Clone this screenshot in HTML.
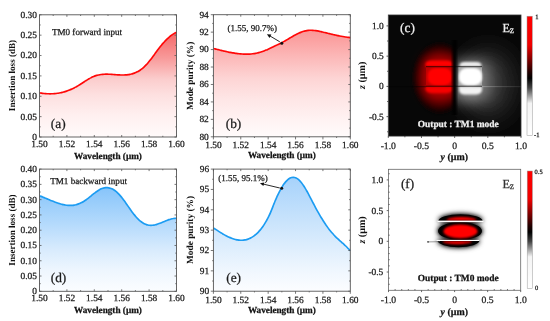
<!DOCTYPE html><html><head><meta charset="utf-8"><style>html,body{margin:0;padding:0;background:#fff;}svg{display:block;filter:blur(0.45px)} text{text-rendering:geometricPrecision;stroke-width:0.25px;paint-order:stroke}</style></head><body>
<svg xmlns="http://www.w3.org/2000/svg" width="550" height="321" viewBox="0 0 550 321" font-family='"Liberation Serif", serif'>
<defs>
<linearGradient id="gRa" gradientUnits="userSpaceOnUse" x1="0" y1="31.8" x2="0" y2="137.0"><stop offset="0" stop-color="#f56666"/><stop offset="0.25" stop-color="#f89a9a"/><stop offset="0.45" stop-color="#fbcdcd"/><stop offset="0.6" stop-color="#fde0e0"/><stop offset="0.8" stop-color="#fff0f0"/><stop offset="1" stop-color="#fffafa"/></linearGradient>
<linearGradient id="gRb" gradientUnits="userSpaceOnUse" x1="0" y1="29.7" x2="0" y2="136.8"><stop offset="0" stop-color="#fa9696"/><stop offset="0.1" stop-color="#fba2a2"/><stop offset="0.45" stop-color="#fdd4d4"/><stop offset="0.65" stop-color="#fee6e6"/><stop offset="0.85" stop-color="#fff3f3"/><stop offset="1" stop-color="#fffbfb"/></linearGradient>
<linearGradient id="gBd" gradientUnits="userSpaceOnUse" x1="0" y1="187.1" x2="0" y2="291.3"><stop offset="0" stop-color="#86c4fa"/><stop offset="0.35" stop-color="#b4dafc"/><stop offset="0.6" stop-color="#d8ebfd"/><stop offset="0.8" stop-color="#eef6fe"/><stop offset="1" stop-color="#fbfdff"/></linearGradient>
<linearGradient id="gBe" gradientUnits="userSpaceOnUse" x1="0" y1="177.1" x2="0" y2="291.2"><stop offset="0" stop-color="#a6d2fb"/><stop offset="0.4" stop-color="#cae4fc"/><stop offset="0.8" stop-color="#eef6fe"/><stop offset="1" stop-color="#fcfdff"/></linearGradient>
<linearGradient id="cbC" x1="0" y1="0" x2="0" y2="1"><stop offset="0" stop-color="#ff0000"/><stop offset="0.24" stop-color="#f00000"/><stop offset="0.47" stop-color="#200000"/><stop offset="0.52" stop-color="#000"/><stop offset="0.6" stop-color="#444"/><stop offset="0.73" stop-color="#f4f4f4"/><stop offset="1" stop-color="#fff"/></linearGradient>
<linearGradient id="cbF" x1="0" y1="0" x2="0" y2="1"><stop offset="0" stop-color="#ff0000"/><stop offset="0.24" stop-color="#f00000"/><stop offset="0.47" stop-color="#200000"/><stop offset="0.52" stop-color="#000"/><stop offset="0.6" stop-color="#444"/><stop offset="0.73" stop-color="#f4f4f4"/><stop offset="1" stop-color="#fff"/></linearGradient>
<filter id="bl1" x="-50%" y="-50%" width="200%" height="200%"><feGaussianBlur stdDeviation="1"/></filter>
<filter id="bl05" x="-50%" y="-50%" width="200%" height="200%"><feGaussianBlur stdDeviation="0.6"/></filter>
<filter id="bl2" x="-50%" y="-50%" width="200%" height="200%"><feGaussianBlur stdDeviation="2"/></filter>
<filter id="bl3" x="-50%" y="-50%" width="200%" height="200%"><feGaussianBlur stdDeviation="3"/></filter>
<filter id="bl5" x="-50%" y="-50%" width="200%" height="200%"><feGaussianBlur stdDeviation="5"/></filter>
<filter id="bl8" x="-50%" y="-50%" width="200%" height="200%"><feGaussianBlur stdDeviation="8"/></filter>
<clipPath id="clipC"><rect x="388.3" y="15.0" width="132.7" height="121.1"/></clipPath>
<clipPath id="clipF"><rect x="388.5" y="169.3" width="132.20000000000005" height="121.0"/></clipPath>
<marker id="arr" viewBox="0 0 10 10" refX="1" refY="5" markerWidth="4.5" markerHeight="4" orient="auto-start-reverse"><path d="M0,0 L10,5 L0,10 z" fill="#111"/></marker>
</defs>
<path d="M39.50,92.85 C39.75,92.89 40.50,93.02 41.01,93.10 C41.51,93.17 42.01,93.25 42.51,93.31 C43.01,93.37 43.51,93.43 44.02,93.49 C44.52,93.54 45.02,93.58 45.52,93.62 C46.02,93.66 46.53,93.70 47.03,93.72 C47.53,93.75 48.03,93.77 48.53,93.78 C49.03,93.80 49.54,93.80 50.04,93.80 C50.54,93.80 51.04,93.80 51.54,93.78 C52.05,93.77 52.55,93.75 53.05,93.72 C53.55,93.69 54.05,93.66 54.55,93.61 C55.06,93.57 55.56,93.52 56.06,93.46 C56.56,93.41 57.06,93.34 57.57,93.27 C58.07,93.20 58.57,93.12 59.07,93.03 C59.57,92.94 60.08,92.85 60.58,92.75 C61.08,92.64 61.58,92.53 62.08,92.41 C62.58,92.29 63.09,92.17 63.59,92.03 C64.09,91.90 64.59,91.75 65.09,91.60 C65.60,91.45 66.10,91.29 66.60,91.12 C67.10,90.95 67.60,90.78 68.10,90.59 C68.61,90.41 69.11,90.21 69.61,90.01 C70.11,89.81 70.61,89.60 71.12,89.38 C71.62,89.16 72.12,88.93 72.62,88.69 C73.12,88.45 73.62,88.21 74.13,87.95 C74.63,87.69 75.13,87.43 75.63,87.15 C76.13,86.88 76.64,86.60 77.14,86.30 C77.64,86.01 78.14,85.71 78.64,85.40 C79.14,85.09 79.65,84.77 80.15,84.45 C80.65,84.13 81.15,83.80 81.65,83.47 C82.16,83.14 82.66,82.81 83.16,82.48 C83.66,82.15 84.16,81.82 84.66,81.49 C85.17,81.17 85.67,80.84 86.17,80.52 C86.67,80.20 87.17,79.89 87.68,79.58 C88.18,79.28 88.68,78.98 89.18,78.69 C89.68,78.40 90.18,78.12 90.69,77.86 C91.19,77.59 91.69,77.34 92.19,77.10 C92.69,76.86 93.20,76.64 93.70,76.43 C94.20,76.23 94.70,76.04 95.20,75.86 C95.71,75.69 96.21,75.54 96.71,75.39 C97.21,75.25 97.71,75.13 98.21,75.01 C98.72,74.90 99.22,74.80 99.72,74.71 C100.22,74.63 100.72,74.55 101.23,74.49 C101.73,74.43 102.23,74.38 102.73,74.33 C103.23,74.29 103.73,74.26 104.24,74.23 C104.74,74.21 105.24,74.20 105.74,74.19 C106.24,74.18 106.75,74.18 107.25,74.19 C107.75,74.20 108.25,74.21 108.75,74.23 C109.25,74.25 109.76,74.27 110.26,74.30 C110.76,74.32 111.26,74.35 111.76,74.39 C112.27,74.42 112.77,74.46 113.27,74.49 C113.77,74.53 114.27,74.57 114.77,74.61 C115.28,74.64 115.78,74.68 116.28,74.72 C116.78,74.76 117.28,74.79 117.79,74.82 C118.29,74.85 118.79,74.89 119.29,74.91 C119.79,74.94 120.29,74.96 120.80,74.97 C121.30,74.99 121.80,75.00 122.30,75.00 C122.80,75.01 123.31,75.00 123.81,74.99 C124.31,74.98 124.81,74.96 125.31,74.93 C125.82,74.90 126.32,74.87 126.82,74.82 C127.32,74.77 127.82,74.71 128.32,74.64 C128.83,74.57 129.33,74.49 129.83,74.39 C130.33,74.29 130.83,74.18 131.34,74.06 C131.84,73.93 132.34,73.80 132.84,73.64 C133.34,73.49 133.84,73.32 134.35,73.13 C134.85,72.94 135.35,72.74 135.85,72.51 C136.35,72.29 136.86,72.05 137.36,71.78 C137.86,71.52 138.36,71.24 138.86,70.93 C139.36,70.63 139.87,70.31 140.37,69.96 C140.87,69.61 141.37,69.24 141.87,68.85 C142.38,68.46 142.88,68.04 143.38,67.60 C143.88,67.15 144.38,66.69 144.88,66.19 C145.39,65.70 145.89,65.18 146.39,64.63 C146.89,64.09 147.39,63.52 147.90,62.93 C148.40,62.34 148.90,61.73 149.40,61.10 C149.90,60.48 150.40,59.83 150.91,59.18 C151.41,58.53 151.91,57.86 152.41,57.19 C152.91,56.52 153.42,55.84 153.92,55.16 C154.42,54.47 154.92,53.79 155.42,53.10 C155.92,52.42 156.43,51.73 156.93,51.05 C157.43,50.37 157.93,49.69 158.43,49.03 C158.94,48.37 159.44,47.71 159.94,47.06 C160.44,46.42 160.94,45.79 161.45,45.18 C161.95,44.57 162.45,43.97 162.95,43.39 C163.45,42.81 163.95,42.24 164.46,41.70 C164.96,41.15 165.46,40.62 165.96,40.11 C166.46,39.60 166.97,39.10 167.47,38.63 C167.97,38.15 168.47,37.70 168.97,37.26 C169.47,36.82 169.98,36.40 170.48,36.01 C170.98,35.61 171.48,35.23 171.98,34.87 C172.49,34.51 172.99,34.17 173.49,33.85 C173.99,33.54 174.49,33.24 174.99,32.97 C175.50,32.69 176.25,32.33 176.50,32.21 L176.50,137.00 L39.50,137.00 Z" fill="url(#gRa)"/>
<path d="M39.50,92.85 C39.75,92.89 40.50,93.02 41.01,93.10 C41.51,93.17 42.01,93.25 42.51,93.31 C43.01,93.37 43.51,93.43 44.02,93.49 C44.52,93.54 45.02,93.58 45.52,93.62 C46.02,93.66 46.53,93.70 47.03,93.72 C47.53,93.75 48.03,93.77 48.53,93.78 C49.03,93.80 49.54,93.80 50.04,93.80 C50.54,93.80 51.04,93.80 51.54,93.78 C52.05,93.77 52.55,93.75 53.05,93.72 C53.55,93.69 54.05,93.66 54.55,93.61 C55.06,93.57 55.56,93.52 56.06,93.46 C56.56,93.41 57.06,93.34 57.57,93.27 C58.07,93.20 58.57,93.12 59.07,93.03 C59.57,92.94 60.08,92.85 60.58,92.75 C61.08,92.64 61.58,92.53 62.08,92.41 C62.58,92.29 63.09,92.17 63.59,92.03 C64.09,91.90 64.59,91.75 65.09,91.60 C65.60,91.45 66.10,91.29 66.60,91.12 C67.10,90.95 67.60,90.78 68.10,90.59 C68.61,90.41 69.11,90.21 69.61,90.01 C70.11,89.81 70.61,89.60 71.12,89.38 C71.62,89.16 72.12,88.93 72.62,88.69 C73.12,88.45 73.62,88.21 74.13,87.95 C74.63,87.69 75.13,87.43 75.63,87.15 C76.13,86.88 76.64,86.60 77.14,86.30 C77.64,86.01 78.14,85.71 78.64,85.40 C79.14,85.09 79.65,84.77 80.15,84.45 C80.65,84.13 81.15,83.80 81.65,83.47 C82.16,83.14 82.66,82.81 83.16,82.48 C83.66,82.15 84.16,81.82 84.66,81.49 C85.17,81.17 85.67,80.84 86.17,80.52 C86.67,80.20 87.17,79.89 87.68,79.58 C88.18,79.28 88.68,78.98 89.18,78.69 C89.68,78.40 90.18,78.12 90.69,77.86 C91.19,77.59 91.69,77.34 92.19,77.10 C92.69,76.86 93.20,76.64 93.70,76.43 C94.20,76.23 94.70,76.04 95.20,75.86 C95.71,75.69 96.21,75.54 96.71,75.39 C97.21,75.25 97.71,75.13 98.21,75.01 C98.72,74.90 99.22,74.80 99.72,74.71 C100.22,74.63 100.72,74.55 101.23,74.49 C101.73,74.43 102.23,74.38 102.73,74.33 C103.23,74.29 103.73,74.26 104.24,74.23 C104.74,74.21 105.24,74.20 105.74,74.19 C106.24,74.18 106.75,74.18 107.25,74.19 C107.75,74.20 108.25,74.21 108.75,74.23 C109.25,74.25 109.76,74.27 110.26,74.30 C110.76,74.32 111.26,74.35 111.76,74.39 C112.27,74.42 112.77,74.46 113.27,74.49 C113.77,74.53 114.27,74.57 114.77,74.61 C115.28,74.64 115.78,74.68 116.28,74.72 C116.78,74.76 117.28,74.79 117.79,74.82 C118.29,74.85 118.79,74.89 119.29,74.91 C119.79,74.94 120.29,74.96 120.80,74.97 C121.30,74.99 121.80,75.00 122.30,75.00 C122.80,75.01 123.31,75.00 123.81,74.99 C124.31,74.98 124.81,74.96 125.31,74.93 C125.82,74.90 126.32,74.87 126.82,74.82 C127.32,74.77 127.82,74.71 128.32,74.64 C128.83,74.57 129.33,74.49 129.83,74.39 C130.33,74.29 130.83,74.18 131.34,74.06 C131.84,73.93 132.34,73.80 132.84,73.64 C133.34,73.49 133.84,73.32 134.35,73.13 C134.85,72.94 135.35,72.74 135.85,72.51 C136.35,72.29 136.86,72.05 137.36,71.78 C137.86,71.52 138.36,71.24 138.86,70.93 C139.36,70.63 139.87,70.31 140.37,69.96 C140.87,69.61 141.37,69.24 141.87,68.85 C142.38,68.46 142.88,68.04 143.38,67.60 C143.88,67.15 144.38,66.69 144.88,66.19 C145.39,65.70 145.89,65.18 146.39,64.63 C146.89,64.09 147.39,63.52 147.90,62.93 C148.40,62.34 148.90,61.73 149.40,61.10 C149.90,60.48 150.40,59.83 150.91,59.18 C151.41,58.53 151.91,57.86 152.41,57.19 C152.91,56.52 153.42,55.84 153.92,55.16 C154.42,54.47 154.92,53.79 155.42,53.10 C155.92,52.42 156.43,51.73 156.93,51.05 C157.43,50.37 157.93,49.69 158.43,49.03 C158.94,48.37 159.44,47.71 159.94,47.06 C160.44,46.42 160.94,45.79 161.45,45.18 C161.95,44.57 162.45,43.97 162.95,43.39 C163.45,42.81 163.95,42.24 164.46,41.70 C164.96,41.15 165.46,40.62 165.96,40.11 C166.46,39.60 166.97,39.10 167.47,38.63 C167.97,38.15 168.47,37.70 168.97,37.26 C169.47,36.82 169.98,36.40 170.48,36.01 C170.98,35.61 171.48,35.23 171.98,34.87 C172.49,34.51 172.99,34.17 173.49,33.85 C173.99,33.54 174.49,33.24 174.99,32.97 C175.50,32.69 176.25,32.33 176.50,32.21" fill="none" stroke="#ff0808" stroke-width="1.65" stroke-linejoin="round"/>
<rect x="39.50" y="14.80" width="137.00" height="122.20" fill="none" stroke="#555" stroke-width="0.9"/>
<path d="M39.50,137.00v-2.00M39.50,14.80v2.00M66.90,137.00v-2.00M66.90,14.80v2.00M94.30,137.00v-2.00M94.30,14.80v2.00M121.70,137.00v-2.00M121.70,14.80v2.00M149.10,137.00v-2.00M149.10,14.80v2.00M176.50,137.00v-2.00M176.50,14.80v2.00M53.20,137.00v-1.20M53.20,14.80v1.20M80.60,137.00v-1.20M80.60,14.80v1.20M108.00,137.00v-1.20M108.00,14.80v1.20M135.40,137.00v-1.20M135.40,14.80v1.20M162.80,137.00v-1.20M162.80,14.80v1.20M39.50,137.00h2.00M176.50,137.00h-2.00M39.50,116.63h2.00M176.50,116.63h-2.00M39.50,96.27h2.00M176.50,96.27h-2.00M39.50,75.90h2.00M176.50,75.90h-2.00M39.50,55.53h2.00M176.50,55.53h-2.00M39.50,35.17h2.00M176.50,35.17h-2.00M39.50,14.80h2.00M176.50,14.80h-2.00M39.50,126.82h1.20M176.50,126.82h-1.20M39.50,106.45h1.20M176.50,106.45h-1.20M39.50,86.08h1.20M176.50,86.08h-1.20M39.50,65.72h1.20M176.50,65.72h-1.20M39.50,45.35h1.20M176.50,45.35h-1.20M39.50,24.98h1.20M176.50,24.98h-1.20" stroke="#555" stroke-width="0.8" fill="none"/>
<text x="39.50" y="147.10" font-size="9.4" text-anchor="middle" font-weight="normal" font-style="normal" fill="#1a1a1a" stroke="#1a1a1a" >1.50</text>
<text x="66.90" y="147.10" font-size="9.4" text-anchor="middle" font-weight="normal" font-style="normal" fill="#1a1a1a" stroke="#1a1a1a" >1.52</text>
<text x="94.30" y="147.10" font-size="9.4" text-anchor="middle" font-weight="normal" font-style="normal" fill="#1a1a1a" stroke="#1a1a1a" >1.54</text>
<text x="121.70" y="147.10" font-size="9.4" text-anchor="middle" font-weight="normal" font-style="normal" fill="#1a1a1a" stroke="#1a1a1a" >1.56</text>
<text x="149.10" y="147.10" font-size="9.4" text-anchor="middle" font-weight="normal" font-style="normal" fill="#1a1a1a" stroke="#1a1a1a" >1.58</text>
<text x="176.50" y="147.10" font-size="9.4" text-anchor="middle" font-weight="normal" font-style="normal" fill="#1a1a1a" stroke="#1a1a1a" >1.60</text>
<text x="36.90" y="139.90" font-size="9.4" text-anchor="end" font-weight="normal" font-style="normal" fill="#1a1a1a" stroke="#1a1a1a" >0</text>
<text x="36.90" y="119.53" font-size="9.4" text-anchor="end" font-weight="normal" font-style="normal" fill="#1a1a1a" stroke="#1a1a1a" >0.05</text>
<text x="36.90" y="99.17" font-size="9.4" text-anchor="end" font-weight="normal" font-style="normal" fill="#1a1a1a" stroke="#1a1a1a" >0.10</text>
<text x="36.90" y="78.80" font-size="9.4" text-anchor="end" font-weight="normal" font-style="normal" fill="#1a1a1a" stroke="#1a1a1a" >0.15</text>
<text x="36.90" y="58.43" font-size="9.4" text-anchor="end" font-weight="normal" font-style="normal" fill="#1a1a1a" stroke="#1a1a1a" >0.20</text>
<text x="36.90" y="38.07" font-size="9.4" text-anchor="end" font-weight="normal" font-style="normal" fill="#1a1a1a" stroke="#1a1a1a" >0.25</text>
<text x="36.90" y="17.70" font-size="9.4" text-anchor="end" font-weight="normal" font-style="normal" fill="#1a1a1a" stroke="#1a1a1a" >0.30</text>
<text x="51.90" y="34.60" font-size="9.1" text-anchor="start" font-weight="normal" font-style="normal" fill="#1a1a1a" stroke="#1a1a1a" >TM0 forward input</text>
<text x="50.80" y="127.60" font-size="13.4" text-anchor="start" font-weight="normal" font-style="normal" fill="#1a1a1a" stroke="#1a1a1a" >(a)</text>
<path d="M213.60,48.55 C213.85,48.61 214.60,48.79 215.10,48.91 C215.60,49.03 216.10,49.15 216.60,49.27 C217.11,49.39 217.61,49.52 218.11,49.64 C218.61,49.76 219.11,49.88 219.61,50.00 C220.11,50.12 220.61,50.25 221.11,50.37 C221.61,50.49 222.11,50.61 222.61,50.72 C223.11,50.84 223.61,50.96 224.12,51.08 C224.62,51.19 225.12,51.31 225.62,51.42 C226.12,51.53 226.62,51.64 227.12,51.75 C227.62,51.86 228.12,51.97 228.62,52.07 C229.12,52.18 229.62,52.28 230.12,52.38 C230.62,52.48 231.13,52.57 231.63,52.66 C232.13,52.76 232.63,52.85 233.13,52.93 C233.63,53.02 234.13,53.10 234.63,53.18 C235.13,53.26 235.63,53.34 236.13,53.41 C236.63,53.48 237.13,53.55 237.64,53.61 C238.14,53.67 238.64,53.73 239.14,53.78 C239.64,53.84 240.14,53.88 240.64,53.93 C241.14,53.97 241.64,54.01 242.14,54.04 C242.64,54.07 243.14,54.10 243.64,54.12 C244.14,54.14 244.65,54.16 245.15,54.17 C245.65,54.17 246.15,54.18 246.65,54.17 C247.15,54.17 247.65,54.16 248.15,54.14 C248.65,54.12 249.15,54.10 249.65,54.07 C250.15,54.04 250.65,54.00 251.15,53.95 C251.66,53.91 252.16,53.85 252.66,53.79 C253.16,53.73 253.66,53.66 254.16,53.58 C254.66,53.50 255.16,53.42 255.66,53.32 C256.16,53.23 256.66,53.12 257.16,53.01 C257.66,52.90 258.17,52.78 258.67,52.65 C259.17,52.51 259.67,52.37 260.17,52.23 C260.67,52.08 261.17,51.92 261.67,51.75 C262.17,51.58 262.67,51.41 263.17,51.22 C263.67,51.04 264.17,50.85 264.67,50.65 C265.18,50.46 265.68,50.25 266.18,50.04 C266.68,49.84 267.18,49.62 267.68,49.40 C268.18,49.18 268.68,48.96 269.18,48.73 C269.68,48.50 270.18,48.27 270.68,48.03 C271.18,47.80 271.68,47.56 272.19,47.32 C272.69,47.08 273.19,46.83 273.69,46.59 C274.19,46.35 274.69,46.10 275.19,45.86 C275.69,45.61 276.19,45.37 276.69,45.12 C277.19,44.88 277.69,44.63 278.19,44.39 C278.70,44.14 279.20,43.90 279.70,43.66 C280.20,43.41 280.70,43.16 281.20,42.91 C281.70,42.66 282.20,42.41 282.70,42.15 C283.20,41.89 283.70,41.63 284.20,41.36 C284.70,41.08 285.20,40.81 285.71,40.52 C286.21,40.23 286.71,39.93 287.21,39.64 C287.71,39.34 288.21,39.03 288.71,38.73 C289.21,38.43 289.71,38.12 290.21,37.82 C290.71,37.53 291.21,37.23 291.71,36.94 C292.22,36.64 292.72,36.36 293.22,36.07 C293.72,35.79 294.22,35.51 294.72,35.24 C295.22,34.97 295.72,34.70 296.22,34.45 C296.72,34.19 297.22,33.94 297.72,33.70 C298.22,33.46 298.72,33.23 299.23,33.01 C299.73,32.79 300.23,32.58 300.73,32.38 C301.23,32.18 301.73,31.99 302.23,31.82 C302.73,31.64 303.23,31.48 303.73,31.33 C304.23,31.18 304.73,31.04 305.23,30.92 C305.73,30.80 306.24,30.70 306.74,30.61 C307.24,30.52 307.74,30.45 308.24,30.39 C308.74,30.34 309.24,30.30 309.74,30.28 C310.24,30.26 310.74,30.25 311.24,30.26 C311.74,30.26 312.24,30.29 312.75,30.32 C313.25,30.35 313.75,30.40 314.25,30.45 C314.75,30.51 315.25,30.57 315.75,30.65 C316.25,30.72 316.75,30.80 317.25,30.89 C317.75,30.98 318.25,31.08 318.75,31.18 C319.25,31.28 319.76,31.39 320.26,31.49 C320.76,31.60 321.26,31.72 321.76,31.83 C322.26,31.95 322.76,32.06 323.26,32.18 C323.76,32.30 324.26,32.42 324.76,32.53 C325.26,32.65 325.76,32.77 326.26,32.89 C326.77,33.01 327.27,33.13 327.77,33.25 C328.27,33.37 328.77,33.49 329.27,33.61 C329.77,33.73 330.27,33.85 330.77,33.97 C331.27,34.09 331.77,34.21 332.27,34.33 C332.77,34.45 333.28,34.56 333.78,34.68 C334.28,34.79 334.78,34.91 335.28,35.02 C335.78,35.13 336.28,35.24 336.78,35.35 C337.28,35.46 337.78,35.57 338.28,35.67 C338.78,35.78 339.28,35.88 339.78,35.98 C340.29,36.08 340.79,36.17 341.29,36.27 C341.79,36.36 342.29,36.45 342.79,36.54 C343.29,36.63 343.79,36.71 344.29,36.79 C344.79,36.87 345.29,36.95 345.79,37.02 C346.29,37.10 346.79,37.17 347.30,37.23 C347.80,37.29 348.30,37.35 348.80,37.41 C349.30,37.47 350.05,37.54 350.30,37.56 L350.30,136.80 L213.60,136.80 Z" fill="url(#gRb)"/>
<path d="M213.60,48.55 C213.85,48.61 214.60,48.79 215.10,48.91 C215.60,49.03 216.10,49.15 216.60,49.27 C217.11,49.39 217.61,49.52 218.11,49.64 C218.61,49.76 219.11,49.88 219.61,50.00 C220.11,50.12 220.61,50.25 221.11,50.37 C221.61,50.49 222.11,50.61 222.61,50.72 C223.11,50.84 223.61,50.96 224.12,51.08 C224.62,51.19 225.12,51.31 225.62,51.42 C226.12,51.53 226.62,51.64 227.12,51.75 C227.62,51.86 228.12,51.97 228.62,52.07 C229.12,52.18 229.62,52.28 230.12,52.38 C230.62,52.48 231.13,52.57 231.63,52.66 C232.13,52.76 232.63,52.85 233.13,52.93 C233.63,53.02 234.13,53.10 234.63,53.18 C235.13,53.26 235.63,53.34 236.13,53.41 C236.63,53.48 237.13,53.55 237.64,53.61 C238.14,53.67 238.64,53.73 239.14,53.78 C239.64,53.84 240.14,53.88 240.64,53.93 C241.14,53.97 241.64,54.01 242.14,54.04 C242.64,54.07 243.14,54.10 243.64,54.12 C244.14,54.14 244.65,54.16 245.15,54.17 C245.65,54.17 246.15,54.18 246.65,54.17 C247.15,54.17 247.65,54.16 248.15,54.14 C248.65,54.12 249.15,54.10 249.65,54.07 C250.15,54.04 250.65,54.00 251.15,53.95 C251.66,53.91 252.16,53.85 252.66,53.79 C253.16,53.73 253.66,53.66 254.16,53.58 C254.66,53.50 255.16,53.42 255.66,53.32 C256.16,53.23 256.66,53.12 257.16,53.01 C257.66,52.90 258.17,52.78 258.67,52.65 C259.17,52.51 259.67,52.37 260.17,52.23 C260.67,52.08 261.17,51.92 261.67,51.75 C262.17,51.58 262.67,51.41 263.17,51.22 C263.67,51.04 264.17,50.85 264.67,50.65 C265.18,50.46 265.68,50.25 266.18,50.04 C266.68,49.84 267.18,49.62 267.68,49.40 C268.18,49.18 268.68,48.96 269.18,48.73 C269.68,48.50 270.18,48.27 270.68,48.03 C271.18,47.80 271.68,47.56 272.19,47.32 C272.69,47.08 273.19,46.83 273.69,46.59 C274.19,46.35 274.69,46.10 275.19,45.86 C275.69,45.61 276.19,45.37 276.69,45.12 C277.19,44.88 277.69,44.63 278.19,44.39 C278.70,44.14 279.20,43.90 279.70,43.66 C280.20,43.41 280.70,43.16 281.20,42.91 C281.70,42.66 282.20,42.41 282.70,42.15 C283.20,41.89 283.70,41.63 284.20,41.36 C284.70,41.08 285.20,40.81 285.71,40.52 C286.21,40.23 286.71,39.93 287.21,39.64 C287.71,39.34 288.21,39.03 288.71,38.73 C289.21,38.43 289.71,38.12 290.21,37.82 C290.71,37.53 291.21,37.23 291.71,36.94 C292.22,36.64 292.72,36.36 293.22,36.07 C293.72,35.79 294.22,35.51 294.72,35.24 C295.22,34.97 295.72,34.70 296.22,34.45 C296.72,34.19 297.22,33.94 297.72,33.70 C298.22,33.46 298.72,33.23 299.23,33.01 C299.73,32.79 300.23,32.58 300.73,32.38 C301.23,32.18 301.73,31.99 302.23,31.82 C302.73,31.64 303.23,31.48 303.73,31.33 C304.23,31.18 304.73,31.04 305.23,30.92 C305.73,30.80 306.24,30.70 306.74,30.61 C307.24,30.52 307.74,30.45 308.24,30.39 C308.74,30.34 309.24,30.30 309.74,30.28 C310.24,30.26 310.74,30.25 311.24,30.26 C311.74,30.26 312.24,30.29 312.75,30.32 C313.25,30.35 313.75,30.40 314.25,30.45 C314.75,30.51 315.25,30.57 315.75,30.65 C316.25,30.72 316.75,30.80 317.25,30.89 C317.75,30.98 318.25,31.08 318.75,31.18 C319.25,31.28 319.76,31.39 320.26,31.49 C320.76,31.60 321.26,31.72 321.76,31.83 C322.26,31.95 322.76,32.06 323.26,32.18 C323.76,32.30 324.26,32.42 324.76,32.53 C325.26,32.65 325.76,32.77 326.26,32.89 C326.77,33.01 327.27,33.13 327.77,33.25 C328.27,33.37 328.77,33.49 329.27,33.61 C329.77,33.73 330.27,33.85 330.77,33.97 C331.27,34.09 331.77,34.21 332.27,34.33 C332.77,34.45 333.28,34.56 333.78,34.68 C334.28,34.79 334.78,34.91 335.28,35.02 C335.78,35.13 336.28,35.24 336.78,35.35 C337.28,35.46 337.78,35.57 338.28,35.67 C338.78,35.78 339.28,35.88 339.78,35.98 C340.29,36.08 340.79,36.17 341.29,36.27 C341.79,36.36 342.29,36.45 342.79,36.54 C343.29,36.63 343.79,36.71 344.29,36.79 C344.79,36.87 345.29,36.95 345.79,37.02 C346.29,37.10 346.79,37.17 347.30,37.23 C347.80,37.29 348.30,37.35 348.80,37.41 C349.30,37.47 350.05,37.54 350.30,37.56" fill="none" stroke="#ff0808" stroke-width="1.65" stroke-linejoin="round"/>
<rect x="213.40" y="14.70" width="136.90" height="122.10" fill="none" stroke="#555" stroke-width="0.9"/>
<path d="M213.40,136.80v2.60M213.40,14.70v2.00M240.78,136.80v2.60M240.78,14.70v2.00M268.16,136.80v2.60M268.16,14.70v2.00M295.54,136.80v2.60M295.54,14.70v2.00M322.92,136.80v2.60M322.92,14.70v2.00M350.30,136.80v2.60M350.30,14.70v2.00M227.09,136.80v1.20M227.09,14.70v1.20M254.47,136.80v1.20M254.47,14.70v1.20M281.85,136.80v1.20M281.85,14.70v1.20M309.23,136.80v1.20M309.23,14.70v1.20M336.61,136.80v1.20M336.61,14.70v1.20M213.40,136.80h-2.60M350.30,136.80h-2.00M213.40,119.36h-2.60M350.30,119.36h-2.00M213.40,101.91h-2.60M350.30,101.91h-2.00M213.40,84.47h-2.60M350.30,84.47h-2.00M213.40,67.03h-2.60M350.30,67.03h-2.00M213.40,49.59h-2.60M350.30,49.59h-2.00M213.40,32.14h-2.60M350.30,32.14h-2.00M213.40,14.70h-2.60M350.30,14.70h-2.00M213.40,128.08h-1.20M350.30,128.08h-1.20M213.40,110.64h-1.20M350.30,110.64h-1.20M213.40,93.19h-1.20M350.30,93.19h-1.20M213.40,75.75h-1.20M350.30,75.75h-1.20M213.40,58.31h-1.20M350.30,58.31h-1.20M213.40,40.86h-1.20M350.30,40.86h-1.20M213.40,23.42h-1.20M350.30,23.42h-1.20" stroke="#555" stroke-width="0.8" fill="none"/>
<text x="213.40" y="148.00" font-size="9.4" text-anchor="middle" font-weight="normal" font-style="normal" fill="#1a1a1a" stroke="#1a1a1a" >1.50</text>
<text x="240.78" y="148.00" font-size="9.4" text-anchor="middle" font-weight="normal" font-style="normal" fill="#1a1a1a" stroke="#1a1a1a" >1.52</text>
<text x="268.16" y="148.00" font-size="9.4" text-anchor="middle" font-weight="normal" font-style="normal" fill="#1a1a1a" stroke="#1a1a1a" >1.54</text>
<text x="295.54" y="148.00" font-size="9.4" text-anchor="middle" font-weight="normal" font-style="normal" fill="#1a1a1a" stroke="#1a1a1a" >1.56</text>
<text x="322.92" y="148.00" font-size="9.4" text-anchor="middle" font-weight="normal" font-style="normal" fill="#1a1a1a" stroke="#1a1a1a" >1.58</text>
<text x="350.30" y="148.00" font-size="9.4" text-anchor="middle" font-weight="normal" font-style="normal" fill="#1a1a1a" stroke="#1a1a1a" >1.60</text>
<text x="208.80" y="139.70" font-size="9.4" text-anchor="end" font-weight="normal" font-style="normal" fill="#1a1a1a" stroke="#1a1a1a" >80</text>
<text x="208.80" y="122.26" font-size="9.4" text-anchor="end" font-weight="normal" font-style="normal" fill="#1a1a1a" stroke="#1a1a1a" >82</text>
<text x="208.80" y="104.81" font-size="9.4" text-anchor="end" font-weight="normal" font-style="normal" fill="#1a1a1a" stroke="#1a1a1a" >84</text>
<text x="208.80" y="87.37" font-size="9.4" text-anchor="end" font-weight="normal" font-style="normal" fill="#1a1a1a" stroke="#1a1a1a" >86</text>
<text x="208.80" y="69.93" font-size="9.4" text-anchor="end" font-weight="normal" font-style="normal" fill="#1a1a1a" stroke="#1a1a1a" >88</text>
<text x="208.80" y="52.49" font-size="9.4" text-anchor="end" font-weight="normal" font-style="normal" fill="#1a1a1a" stroke="#1a1a1a" >90</text>
<text x="208.80" y="35.04" font-size="9.4" text-anchor="end" font-weight="normal" font-style="normal" fill="#1a1a1a" stroke="#1a1a1a" >92</text>
<text x="208.80" y="17.60" font-size="9.4" text-anchor="end" font-weight="normal" font-style="normal" fill="#1a1a1a" stroke="#1a1a1a" >94</text>
<text x="227.60" y="31.20" font-size="9" text-anchor="start" font-weight="normal" font-style="normal" fill="#1a1a1a" stroke="#1a1a1a" >(1.55, 90.7%)</text>
<line x1="279.8" y1="41.8" x2="269.5" y2="35.7" stroke="#111" stroke-width="0.9"/>
<polygon points="266.9,34.2 269.5,38.0 271.4,34.6" fill="#111"/>
<circle cx="281.8" cy="43.2" r="1.5" fill="#111"/>
<text x="225.70" y="127.60" font-size="13.4" text-anchor="start" font-weight="normal" font-style="normal" fill="#1a1a1a" stroke="#1a1a1a" >(b)</text>
<path d="M39.60,195.80 C39.85,195.90 40.60,196.19 41.10,196.39 C41.61,196.59 42.11,196.79 42.61,197.00 C43.11,197.20 43.61,197.41 44.11,197.62 C44.61,197.83 45.12,198.04 45.62,198.25 C46.12,198.46 46.62,198.67 47.12,198.88 C47.62,199.09 48.12,199.30 48.63,199.51 C49.13,199.72 49.63,199.93 50.13,200.14 C50.63,200.34 51.13,200.55 51.64,200.75 C52.14,200.95 52.64,201.15 53.14,201.35 C53.64,201.55 54.14,201.74 54.64,201.93 C55.15,202.12 55.65,202.30 56.15,202.48 C56.65,202.66 57.15,202.83 57.65,203.00 C58.15,203.17 58.66,203.33 59.16,203.49 C59.66,203.64 60.16,203.79 60.66,203.93 C61.16,204.07 61.66,204.21 62.17,204.33 C62.67,204.46 63.17,204.58 63.67,204.68 C64.17,204.79 64.67,204.89 65.17,204.98 C65.68,205.06 66.18,205.14 66.68,205.20 C67.18,205.27 67.68,205.32 68.18,205.36 C68.68,205.40 69.19,205.42 69.69,205.43 C70.19,205.45 70.69,205.44 71.19,205.42 C71.69,205.40 72.20,205.37 72.70,205.32 C73.20,205.27 73.70,205.20 74.20,205.11 C74.70,205.03 75.20,204.93 75.71,204.81 C76.21,204.68 76.71,204.55 77.21,204.39 C77.71,204.24 78.21,204.06 78.71,203.87 C79.22,203.68 79.72,203.47 80.22,203.25 C80.72,203.02 81.22,202.78 81.72,202.52 C82.22,202.26 82.73,201.99 83.23,201.69 C83.73,201.40 84.23,201.09 84.73,200.76 C85.23,200.43 85.73,200.08 86.24,199.72 C86.74,199.36 87.24,198.98 87.74,198.59 C88.24,198.21 88.74,197.81 89.25,197.40 C89.75,197.00 90.25,196.59 90.75,196.18 C91.25,195.77 91.75,195.35 92.25,194.95 C92.76,194.54 93.26,194.13 93.76,193.73 C94.26,193.33 94.76,192.93 95.26,192.55 C95.76,192.17 96.27,191.80 96.77,191.45 C97.27,191.10 97.77,190.76 98.27,190.44 C98.77,190.12 99.27,189.82 99.78,189.55 C100.28,189.28 100.78,189.03 101.28,188.81 C101.78,188.60 102.28,188.41 102.78,188.25 C103.29,188.09 103.79,187.96 104.29,187.87 C104.79,187.77 105.29,187.71 105.79,187.68 C106.29,187.64 106.80,187.64 107.30,187.67 C107.80,187.70 108.30,187.76 108.80,187.86 C109.30,187.95 109.81,188.08 110.31,188.24 C110.81,188.39 111.31,188.59 111.81,188.81 C112.31,189.03 112.81,189.29 113.32,189.58 C113.82,189.87 114.32,190.19 114.82,190.54 C115.32,190.90 115.82,191.28 116.32,191.71 C116.83,192.13 117.33,192.58 117.83,193.07 C118.33,193.56 118.83,194.08 119.33,194.63 C119.83,195.19 120.34,195.77 120.84,196.38 C121.34,196.98 121.84,197.62 122.34,198.26 C122.84,198.91 123.34,199.59 123.85,200.27 C124.35,200.95 124.85,201.65 125.35,202.35 C125.85,203.06 126.35,203.78 126.85,204.49 C127.36,205.21 127.86,205.93 128.36,206.65 C128.86,207.37 129.36,208.09 129.86,208.80 C130.37,209.51 130.87,210.22 131.37,210.91 C131.87,211.60 132.37,212.29 132.87,212.95 C133.37,213.61 133.88,214.26 134.38,214.88 C134.88,215.50 135.38,216.11 135.88,216.68 C136.38,217.26 136.88,217.80 137.39,218.32 C137.89,218.84 138.39,219.34 138.89,219.80 C139.39,220.27 139.89,220.71 140.39,221.12 C140.90,221.53 141.40,221.91 141.90,222.26 C142.40,222.61 142.90,222.94 143.40,223.23 C143.90,223.52 144.41,223.79 144.91,224.02 C145.41,224.26 145.91,224.46 146.41,224.63 C146.91,224.81 147.42,224.95 147.92,225.06 C148.42,225.17 148.92,225.25 149.42,225.30 C149.92,225.35 150.42,225.38 150.93,225.37 C151.43,225.37 151.93,225.35 152.43,225.30 C152.93,225.25 153.43,225.18 153.93,225.09 C154.44,225.00 154.94,224.89 155.44,224.76 C155.94,224.64 156.44,224.49 156.94,224.34 C157.44,224.19 157.95,224.02 158.45,223.84 C158.95,223.66 159.45,223.47 159.95,223.28 C160.45,223.08 160.95,222.88 161.46,222.67 C161.96,222.47 162.46,222.25 162.96,222.04 C163.46,221.83 163.96,221.62 164.46,221.41 C164.97,221.20 165.47,220.99 165.97,220.78 C166.47,220.58 166.97,220.38 167.47,220.19 C167.98,220.00 168.48,219.82 168.98,219.65 C169.48,219.48 169.98,219.31 170.48,219.17 C170.98,219.02 171.49,218.89 171.99,218.78 C172.49,218.66 172.99,218.56 173.49,218.49 C173.99,218.41 174.49,218.35 175.00,218.32 C175.50,218.28 176.25,218.29 176.50,218.29 L176.50,291.30 L39.60,291.30 Z" fill="url(#gBd)"/>
<path d="M39.60,195.80 C39.85,195.90 40.60,196.19 41.10,196.39 C41.61,196.59 42.11,196.79 42.61,197.00 C43.11,197.20 43.61,197.41 44.11,197.62 C44.61,197.83 45.12,198.04 45.62,198.25 C46.12,198.46 46.62,198.67 47.12,198.88 C47.62,199.09 48.12,199.30 48.63,199.51 C49.13,199.72 49.63,199.93 50.13,200.14 C50.63,200.34 51.13,200.55 51.64,200.75 C52.14,200.95 52.64,201.15 53.14,201.35 C53.64,201.55 54.14,201.74 54.64,201.93 C55.15,202.12 55.65,202.30 56.15,202.48 C56.65,202.66 57.15,202.83 57.65,203.00 C58.15,203.17 58.66,203.33 59.16,203.49 C59.66,203.64 60.16,203.79 60.66,203.93 C61.16,204.07 61.66,204.21 62.17,204.33 C62.67,204.46 63.17,204.58 63.67,204.68 C64.17,204.79 64.67,204.89 65.17,204.98 C65.68,205.06 66.18,205.14 66.68,205.20 C67.18,205.27 67.68,205.32 68.18,205.36 C68.68,205.40 69.19,205.42 69.69,205.43 C70.19,205.45 70.69,205.44 71.19,205.42 C71.69,205.40 72.20,205.37 72.70,205.32 C73.20,205.27 73.70,205.20 74.20,205.11 C74.70,205.03 75.20,204.93 75.71,204.81 C76.21,204.68 76.71,204.55 77.21,204.39 C77.71,204.24 78.21,204.06 78.71,203.87 C79.22,203.68 79.72,203.47 80.22,203.25 C80.72,203.02 81.22,202.78 81.72,202.52 C82.22,202.26 82.73,201.99 83.23,201.69 C83.73,201.40 84.23,201.09 84.73,200.76 C85.23,200.43 85.73,200.08 86.24,199.72 C86.74,199.36 87.24,198.98 87.74,198.59 C88.24,198.21 88.74,197.81 89.25,197.40 C89.75,197.00 90.25,196.59 90.75,196.18 C91.25,195.77 91.75,195.35 92.25,194.95 C92.76,194.54 93.26,194.13 93.76,193.73 C94.26,193.33 94.76,192.93 95.26,192.55 C95.76,192.17 96.27,191.80 96.77,191.45 C97.27,191.10 97.77,190.76 98.27,190.44 C98.77,190.12 99.27,189.82 99.78,189.55 C100.28,189.28 100.78,189.03 101.28,188.81 C101.78,188.60 102.28,188.41 102.78,188.25 C103.29,188.09 103.79,187.96 104.29,187.87 C104.79,187.77 105.29,187.71 105.79,187.68 C106.29,187.64 106.80,187.64 107.30,187.67 C107.80,187.70 108.30,187.76 108.80,187.86 C109.30,187.95 109.81,188.08 110.31,188.24 C110.81,188.39 111.31,188.59 111.81,188.81 C112.31,189.03 112.81,189.29 113.32,189.58 C113.82,189.87 114.32,190.19 114.82,190.54 C115.32,190.90 115.82,191.28 116.32,191.71 C116.83,192.13 117.33,192.58 117.83,193.07 C118.33,193.56 118.83,194.08 119.33,194.63 C119.83,195.19 120.34,195.77 120.84,196.38 C121.34,196.98 121.84,197.62 122.34,198.26 C122.84,198.91 123.34,199.59 123.85,200.27 C124.35,200.95 124.85,201.65 125.35,202.35 C125.85,203.06 126.35,203.78 126.85,204.49 C127.36,205.21 127.86,205.93 128.36,206.65 C128.86,207.37 129.36,208.09 129.86,208.80 C130.37,209.51 130.87,210.22 131.37,210.91 C131.87,211.60 132.37,212.29 132.87,212.95 C133.37,213.61 133.88,214.26 134.38,214.88 C134.88,215.50 135.38,216.11 135.88,216.68 C136.38,217.26 136.88,217.80 137.39,218.32 C137.89,218.84 138.39,219.34 138.89,219.80 C139.39,220.27 139.89,220.71 140.39,221.12 C140.90,221.53 141.40,221.91 141.90,222.26 C142.40,222.61 142.90,222.94 143.40,223.23 C143.90,223.52 144.41,223.79 144.91,224.02 C145.41,224.26 145.91,224.46 146.41,224.63 C146.91,224.81 147.42,224.95 147.92,225.06 C148.42,225.17 148.92,225.25 149.42,225.30 C149.92,225.35 150.42,225.38 150.93,225.37 C151.43,225.37 151.93,225.35 152.43,225.30 C152.93,225.25 153.43,225.18 153.93,225.09 C154.44,225.00 154.94,224.89 155.44,224.76 C155.94,224.64 156.44,224.49 156.94,224.34 C157.44,224.19 157.95,224.02 158.45,223.84 C158.95,223.66 159.45,223.47 159.95,223.28 C160.45,223.08 160.95,222.88 161.46,222.67 C161.96,222.47 162.46,222.25 162.96,222.04 C163.46,221.83 163.96,221.62 164.46,221.41 C164.97,221.20 165.47,220.99 165.97,220.78 C166.47,220.58 166.97,220.38 167.47,220.19 C167.98,220.00 168.48,219.82 168.98,219.65 C169.48,219.48 169.98,219.31 170.48,219.17 C170.98,219.02 171.49,218.89 171.99,218.78 C172.49,218.66 172.99,218.56 173.49,218.49 C173.99,218.41 174.49,218.35 175.00,218.32 C175.50,218.28 176.25,218.29 176.50,218.29" fill="none" stroke="#1c9cf2" stroke-width="1.65" stroke-linejoin="round"/>
<rect x="39.50" y="169.10" width="137.00" height="122.20" fill="none" stroke="#555" stroke-width="0.9"/>
<path d="M39.50,291.30v-2.00M39.50,169.10v2.00M66.90,291.30v-2.00M66.90,169.10v2.00M94.30,291.30v-2.00M94.30,169.10v2.00M121.70,291.30v-2.00M121.70,169.10v2.00M149.10,291.30v-2.00M149.10,169.10v2.00M176.50,291.30v-2.00M176.50,169.10v2.00M53.20,291.30v-1.20M53.20,169.10v1.20M80.60,291.30v-1.20M80.60,169.10v1.20M108.00,291.30v-1.20M108.00,169.10v1.20M135.40,291.30v-1.20M135.40,169.10v1.20M162.80,291.30v-1.20M162.80,169.10v1.20M39.50,291.30h2.00M176.50,291.30h-2.00M39.50,276.03h2.00M176.50,276.03h-2.00M39.50,260.75h2.00M176.50,260.75h-2.00M39.50,245.47h2.00M176.50,245.47h-2.00M39.50,230.20h2.00M176.50,230.20h-2.00M39.50,214.93h2.00M176.50,214.93h-2.00M39.50,199.65h2.00M176.50,199.65h-2.00M39.50,184.38h2.00M176.50,184.38h-2.00M39.50,169.10h2.00M176.50,169.10h-2.00M39.50,283.66h1.20M176.50,283.66h-1.20M39.50,268.39h1.20M176.50,268.39h-1.20M39.50,253.11h1.20M176.50,253.11h-1.20M39.50,237.84h1.20M176.50,237.84h-1.20M39.50,222.56h1.20M176.50,222.56h-1.20M39.50,207.29h1.20M176.50,207.29h-1.20M39.50,192.01h1.20M176.50,192.01h-1.20M39.50,176.74h1.20M176.50,176.74h-1.20" stroke="#555" stroke-width="0.8" fill="none"/>
<text x="39.50" y="301.40" font-size="9.4" text-anchor="middle" font-weight="normal" font-style="normal" fill="#1a1a1a" stroke="#1a1a1a" >1.50</text>
<text x="66.90" y="301.40" font-size="9.4" text-anchor="middle" font-weight="normal" font-style="normal" fill="#1a1a1a" stroke="#1a1a1a" >1.52</text>
<text x="94.30" y="301.40" font-size="9.4" text-anchor="middle" font-weight="normal" font-style="normal" fill="#1a1a1a" stroke="#1a1a1a" >1.54</text>
<text x="121.70" y="301.40" font-size="9.4" text-anchor="middle" font-weight="normal" font-style="normal" fill="#1a1a1a" stroke="#1a1a1a" >1.56</text>
<text x="149.10" y="301.40" font-size="9.4" text-anchor="middle" font-weight="normal" font-style="normal" fill="#1a1a1a" stroke="#1a1a1a" >1.58</text>
<text x="176.50" y="301.40" font-size="9.4" text-anchor="middle" font-weight="normal" font-style="normal" fill="#1a1a1a" stroke="#1a1a1a" >1.60</text>
<text x="36.90" y="294.20" font-size="9.4" text-anchor="end" font-weight="normal" font-style="normal" fill="#1a1a1a" stroke="#1a1a1a" >0</text>
<text x="36.90" y="278.93" font-size="9.4" text-anchor="end" font-weight="normal" font-style="normal" fill="#1a1a1a" stroke="#1a1a1a" >0.05</text>
<text x="36.90" y="263.65" font-size="9.4" text-anchor="end" font-weight="normal" font-style="normal" fill="#1a1a1a" stroke="#1a1a1a" >0.10</text>
<text x="36.90" y="248.38" font-size="9.4" text-anchor="end" font-weight="normal" font-style="normal" fill="#1a1a1a" stroke="#1a1a1a" >0.15</text>
<text x="36.90" y="233.10" font-size="9.4" text-anchor="end" font-weight="normal" font-style="normal" fill="#1a1a1a" stroke="#1a1a1a" >0.20</text>
<text x="36.90" y="217.83" font-size="9.4" text-anchor="end" font-weight="normal" font-style="normal" fill="#1a1a1a" stroke="#1a1a1a" >0.25</text>
<text x="36.90" y="202.55" font-size="9.4" text-anchor="end" font-weight="normal" font-style="normal" fill="#1a1a1a" stroke="#1a1a1a" >0.30</text>
<text x="36.90" y="187.28" font-size="9.4" text-anchor="end" font-weight="normal" font-style="normal" fill="#1a1a1a" stroke="#1a1a1a" >0.35</text>
<text x="36.90" y="172.00" font-size="9.4" text-anchor="end" font-weight="normal" font-style="normal" fill="#1a1a1a" stroke="#1a1a1a" >0.40</text>
<text x="50.20" y="183.50" font-size="9.1" text-anchor="start" font-weight="normal" font-style="normal" fill="#1a1a1a" stroke="#1a1a1a" >TM1 backward input</text>
<text x="50.70" y="282.00" font-size="13.4" text-anchor="start" font-weight="normal" font-style="normal" fill="#1a1a1a" stroke="#1a1a1a" >(d)</text>
<path d="M213.50,227.94 C213.75,228.11 214.50,228.61 215.00,228.94 C215.50,229.27 216.00,229.60 216.50,229.93 C217.01,230.26 217.51,230.59 218.01,230.91 C218.51,231.24 219.01,231.56 219.51,231.88 C220.01,232.19 220.51,232.51 221.01,232.82 C221.51,233.12 222.01,233.43 222.51,233.72 C223.01,234.02 223.51,234.31 224.02,234.60 C224.52,234.88 225.02,235.16 225.52,235.43 C226.02,235.70 226.52,235.96 227.02,236.22 C227.52,236.47 228.02,236.72 228.52,236.95 C229.02,237.19 229.52,237.41 230.02,237.63 C230.52,237.84 231.03,238.05 231.53,238.24 C232.03,238.43 232.53,238.61 233.03,238.78 C233.53,238.95 234.03,239.10 234.53,239.25 C235.03,239.39 235.53,239.52 236.03,239.63 C236.53,239.75 237.03,239.85 237.54,239.93 C238.04,240.02 238.54,240.09 239.04,240.14 C239.54,240.19 240.04,240.23 240.54,240.25 C241.04,240.27 241.54,240.27 242.04,240.25 C242.54,240.24 243.04,240.20 243.54,240.15 C244.04,240.09 244.55,240.02 245.05,239.93 C245.55,239.84 246.05,239.72 246.55,239.59 C247.05,239.45 247.55,239.30 248.05,239.12 C248.55,238.94 249.05,238.75 249.55,238.52 C250.05,238.30 250.55,238.06 251.05,237.79 C251.56,237.52 252.06,237.22 252.56,236.91 C253.06,236.59 253.56,236.25 254.06,235.88 C254.56,235.51 255.06,235.11 255.56,234.69 C256.06,234.27 256.56,233.82 257.06,233.35 C257.56,232.87 258.07,232.37 258.57,231.83 C259.07,231.30 259.57,230.74 260.07,230.14 C260.57,229.55 261.07,228.93 261.57,228.27 C262.07,227.61 262.57,226.92 263.07,226.19 C263.57,225.47 264.07,224.71 264.57,223.91 C265.08,223.11 265.58,222.28 266.08,221.41 C266.58,220.54 267.08,219.63 267.58,218.67 C268.08,217.71 268.58,216.72 269.08,215.66 C269.58,214.60 270.08,213.50 270.58,212.33 C271.08,211.17 271.58,209.93 272.09,208.66 C272.59,207.39 273.09,206.01 273.59,204.73 C274.09,203.45 274.59,202.16 275.09,200.97 C275.59,199.79 276.09,198.70 276.59,197.61 C277.09,196.53 277.59,195.50 278.09,194.47 C278.60,193.44 279.10,192.43 279.60,191.45 C280.10,190.48 280.60,189.52 281.10,188.63 C281.60,187.73 282.10,186.87 282.60,186.07 C283.10,185.27 283.60,184.52 284.10,183.82 C284.60,183.13 285.10,182.49 285.61,181.90 C286.11,181.31 286.61,180.78 287.11,180.30 C287.61,179.82 288.11,179.40 288.61,179.03 C289.11,178.66 289.61,178.35 290.11,178.10 C290.61,177.85 291.11,177.66 291.61,177.53 C292.12,177.39 292.62,177.32 293.12,177.31 C293.62,177.29 294.12,177.34 294.62,177.45 C295.12,177.56 295.62,177.73 296.12,177.96 C296.62,178.20 297.12,178.50 297.62,178.86 C298.12,179.22 298.62,179.65 299.13,180.12 C299.63,180.60 300.13,181.14 300.63,181.73 C301.13,182.31 301.63,182.96 302.13,183.63 C302.63,184.31 303.13,185.04 303.63,185.80 C304.13,186.55 304.63,187.36 305.13,188.18 C305.63,189.01 306.14,189.87 306.64,190.75 C307.14,191.63 307.64,192.53 308.14,193.45 C308.64,194.38 309.14,195.32 309.64,196.27 C310.14,197.22 310.64,198.18 311.14,199.14 C311.64,200.11 312.14,201.08 312.65,202.05 C313.15,203.01 313.65,203.98 314.15,204.94 C314.65,205.89 315.15,206.84 315.65,207.78 C316.15,208.71 316.65,209.63 317.15,210.54 C317.65,211.44 318.15,212.33 318.65,213.21 C319.15,214.09 319.66,214.95 320.16,215.80 C320.66,216.65 321.16,217.49 321.66,218.30 C322.16,219.12 322.66,219.93 323.16,220.71 C323.66,221.50 324.16,222.27 324.66,223.03 C325.16,223.78 325.66,224.52 326.16,225.25 C326.67,225.97 327.17,226.67 327.67,227.36 C328.17,228.05 328.67,228.72 329.17,229.38 C329.67,230.03 330.17,230.67 330.67,231.28 C331.17,231.90 331.67,232.50 332.17,233.08 C332.67,233.66 333.18,234.23 333.68,234.77 C334.18,235.31 334.68,235.83 335.18,236.34 C335.68,236.85 336.18,237.34 336.68,237.81 C337.18,238.29 337.68,238.75 338.18,239.21 C338.68,239.67 339.18,240.11 339.68,240.56 C340.19,241.00 340.69,241.44 341.19,241.88 C341.69,242.33 342.19,242.76 342.69,243.21 C343.19,243.66 343.69,244.11 344.19,244.57 C344.69,245.03 345.19,245.50 345.69,245.98 C346.19,246.46 346.69,246.96 347.20,247.47 C347.70,247.99 348.20,248.51 348.70,249.07 C349.20,249.62 349.95,250.51 350.20,250.80 L350.20,291.20 L213.50,291.20 Z" fill="url(#gBe)"/>
<path d="M213.50,227.94 C213.75,228.11 214.50,228.61 215.00,228.94 C215.50,229.27 216.00,229.60 216.50,229.93 C217.01,230.26 217.51,230.59 218.01,230.91 C218.51,231.24 219.01,231.56 219.51,231.88 C220.01,232.19 220.51,232.51 221.01,232.82 C221.51,233.12 222.01,233.43 222.51,233.72 C223.01,234.02 223.51,234.31 224.02,234.60 C224.52,234.88 225.02,235.16 225.52,235.43 C226.02,235.70 226.52,235.96 227.02,236.22 C227.52,236.47 228.02,236.72 228.52,236.95 C229.02,237.19 229.52,237.41 230.02,237.63 C230.52,237.84 231.03,238.05 231.53,238.24 C232.03,238.43 232.53,238.61 233.03,238.78 C233.53,238.95 234.03,239.10 234.53,239.25 C235.03,239.39 235.53,239.52 236.03,239.63 C236.53,239.75 237.03,239.85 237.54,239.93 C238.04,240.02 238.54,240.09 239.04,240.14 C239.54,240.19 240.04,240.23 240.54,240.25 C241.04,240.27 241.54,240.27 242.04,240.25 C242.54,240.24 243.04,240.20 243.54,240.15 C244.04,240.09 244.55,240.02 245.05,239.93 C245.55,239.84 246.05,239.72 246.55,239.59 C247.05,239.45 247.55,239.30 248.05,239.12 C248.55,238.94 249.05,238.75 249.55,238.52 C250.05,238.30 250.55,238.06 251.05,237.79 C251.56,237.52 252.06,237.22 252.56,236.91 C253.06,236.59 253.56,236.25 254.06,235.88 C254.56,235.51 255.06,235.11 255.56,234.69 C256.06,234.27 256.56,233.82 257.06,233.35 C257.56,232.87 258.07,232.37 258.57,231.83 C259.07,231.30 259.57,230.74 260.07,230.14 C260.57,229.55 261.07,228.93 261.57,228.27 C262.07,227.61 262.57,226.92 263.07,226.19 C263.57,225.47 264.07,224.71 264.57,223.91 C265.08,223.11 265.58,222.28 266.08,221.41 C266.58,220.54 267.08,219.63 267.58,218.67 C268.08,217.71 268.58,216.72 269.08,215.66 C269.58,214.60 270.08,213.50 270.58,212.33 C271.08,211.17 271.58,209.93 272.09,208.66 C272.59,207.39 273.09,206.01 273.59,204.73 C274.09,203.45 274.59,202.16 275.09,200.97 C275.59,199.79 276.09,198.70 276.59,197.61 C277.09,196.53 277.59,195.50 278.09,194.47 C278.60,193.44 279.10,192.43 279.60,191.45 C280.10,190.48 280.60,189.52 281.10,188.63 C281.60,187.73 282.10,186.87 282.60,186.07 C283.10,185.27 283.60,184.52 284.10,183.82 C284.60,183.13 285.10,182.49 285.61,181.90 C286.11,181.31 286.61,180.78 287.11,180.30 C287.61,179.82 288.11,179.40 288.61,179.03 C289.11,178.66 289.61,178.35 290.11,178.10 C290.61,177.85 291.11,177.66 291.61,177.53 C292.12,177.39 292.62,177.32 293.12,177.31 C293.62,177.29 294.12,177.34 294.62,177.45 C295.12,177.56 295.62,177.73 296.12,177.96 C296.62,178.20 297.12,178.50 297.62,178.86 C298.12,179.22 298.62,179.65 299.13,180.12 C299.63,180.60 300.13,181.14 300.63,181.73 C301.13,182.31 301.63,182.96 302.13,183.63 C302.63,184.31 303.13,185.04 303.63,185.80 C304.13,186.55 304.63,187.36 305.13,188.18 C305.63,189.01 306.14,189.87 306.64,190.75 C307.14,191.63 307.64,192.53 308.14,193.45 C308.64,194.38 309.14,195.32 309.64,196.27 C310.14,197.22 310.64,198.18 311.14,199.14 C311.64,200.11 312.14,201.08 312.65,202.05 C313.15,203.01 313.65,203.98 314.15,204.94 C314.65,205.89 315.15,206.84 315.65,207.78 C316.15,208.71 316.65,209.63 317.15,210.54 C317.65,211.44 318.15,212.33 318.65,213.21 C319.15,214.09 319.66,214.95 320.16,215.80 C320.66,216.65 321.16,217.49 321.66,218.30 C322.16,219.12 322.66,219.93 323.16,220.71 C323.66,221.50 324.16,222.27 324.66,223.03 C325.16,223.78 325.66,224.52 326.16,225.25 C326.67,225.97 327.17,226.67 327.67,227.36 C328.17,228.05 328.67,228.72 329.17,229.38 C329.67,230.03 330.17,230.67 330.67,231.28 C331.17,231.90 331.67,232.50 332.17,233.08 C332.67,233.66 333.18,234.23 333.68,234.77 C334.18,235.31 334.68,235.83 335.18,236.34 C335.68,236.85 336.18,237.34 336.68,237.81 C337.18,238.29 337.68,238.75 338.18,239.21 C338.68,239.67 339.18,240.11 339.68,240.56 C340.19,241.00 340.69,241.44 341.19,241.88 C341.69,242.33 342.19,242.76 342.69,243.21 C343.19,243.66 343.69,244.11 344.19,244.57 C344.69,245.03 345.19,245.50 345.69,245.98 C346.19,246.46 346.69,246.96 347.20,247.47 C347.70,247.99 348.20,248.51 348.70,249.07 C349.20,249.62 349.95,250.51 350.20,250.80" fill="none" stroke="#1c9cf2" stroke-width="1.65" stroke-linejoin="round"/>
<rect x="213.40" y="169.10" width="136.90" height="122.10" fill="none" stroke="#555" stroke-width="0.9"/>
<path d="M213.40,291.20v2.60M213.40,169.10v2.00M240.78,291.20v2.60M240.78,169.10v2.00M268.16,291.20v2.60M268.16,169.10v2.00M295.54,291.20v2.60M295.54,169.10v2.00M322.92,291.20v2.60M322.92,169.10v2.00M350.30,291.20v2.60M350.30,169.10v2.00M227.09,291.20v1.20M227.09,169.10v1.20M254.47,291.20v1.20M254.47,169.10v1.20M281.85,291.20v1.20M281.85,169.10v1.20M309.23,291.20v1.20M309.23,169.10v1.20M336.61,291.20v1.20M336.61,169.10v1.20M213.40,291.20h-2.60M350.30,291.20h-2.00M213.40,270.85h-2.60M350.30,270.85h-2.00M213.40,250.50h-2.60M350.30,250.50h-2.00M213.40,230.15h-2.60M350.30,230.15h-2.00M213.40,209.80h-2.60M350.30,209.80h-2.00M213.40,189.45h-2.60M350.30,189.45h-2.00M213.40,169.10h-2.60M350.30,169.10h-2.00M213.40,281.02h-1.20M350.30,281.02h-1.20M213.40,260.68h-1.20M350.30,260.68h-1.20M213.40,240.32h-1.20M350.30,240.32h-1.20M213.40,219.97h-1.20M350.30,219.97h-1.20M213.40,199.62h-1.20M350.30,199.62h-1.20M213.40,179.27h-1.20M350.30,179.27h-1.20" stroke="#555" stroke-width="0.8" fill="none"/>
<text x="213.40" y="302.70" font-size="9.4" text-anchor="middle" font-weight="normal" font-style="normal" fill="#1a1a1a" stroke="#1a1a1a" >1.50</text>
<text x="240.78" y="302.70" font-size="9.4" text-anchor="middle" font-weight="normal" font-style="normal" fill="#1a1a1a" stroke="#1a1a1a" >1.52</text>
<text x="268.16" y="302.70" font-size="9.4" text-anchor="middle" font-weight="normal" font-style="normal" fill="#1a1a1a" stroke="#1a1a1a" >1.54</text>
<text x="295.54" y="302.70" font-size="9.4" text-anchor="middle" font-weight="normal" font-style="normal" fill="#1a1a1a" stroke="#1a1a1a" >1.56</text>
<text x="322.92" y="302.70" font-size="9.4" text-anchor="middle" font-weight="normal" font-style="normal" fill="#1a1a1a" stroke="#1a1a1a" >1.58</text>
<text x="350.30" y="302.70" font-size="9.4" text-anchor="middle" font-weight="normal" font-style="normal" fill="#1a1a1a" stroke="#1a1a1a" >1.60</text>
<text x="209.20" y="294.10" font-size="9.4" text-anchor="end" font-weight="normal" font-style="normal" fill="#1a1a1a" stroke="#1a1a1a" >90</text>
<text x="209.20" y="273.75" font-size="9.4" text-anchor="end" font-weight="normal" font-style="normal" fill="#1a1a1a" stroke="#1a1a1a" >91</text>
<text x="209.20" y="253.40" font-size="9.4" text-anchor="end" font-weight="normal" font-style="normal" fill="#1a1a1a" stroke="#1a1a1a" >92</text>
<text x="209.20" y="233.05" font-size="9.4" text-anchor="end" font-weight="normal" font-style="normal" fill="#1a1a1a" stroke="#1a1a1a" >93</text>
<text x="209.20" y="212.70" font-size="9.4" text-anchor="end" font-weight="normal" font-style="normal" fill="#1a1a1a" stroke="#1a1a1a" >94</text>
<text x="209.20" y="192.35" font-size="9.4" text-anchor="end" font-weight="normal" font-style="normal" fill="#1a1a1a" stroke="#1a1a1a" >95</text>
<text x="209.20" y="172.00" font-size="9.4" text-anchor="end" font-weight="normal" font-style="normal" fill="#1a1a1a" stroke="#1a1a1a" >96</text>
<text x="218.20" y="180.80" font-size="9" text-anchor="start" font-weight="normal" font-style="normal" fill="#1a1a1a" stroke="#1a1a1a" >(1.55, 95.1%)</text>
<line x1="279.8" y1="188.0" x2="263.0" y2="184.0" stroke="#111" stroke-width="0.9"/>
<polygon points="259.9,183.3 263.4,186.0 264.3,182.5" fill="#111"/>
<circle cx="281.7" cy="188.3" r="1.5" fill="#111"/>
<text x="226.20" y="282.00" font-size="13.4" text-anchor="start" font-weight="normal" font-style="normal" fill="#1a1a1a" stroke="#1a1a1a" >(e)</text>
<text x="108.00" y="158.50" font-size="9.2" text-anchor="middle" font-weight="bold" font-style="normal" fill="#111" stroke="#111" >Wavelength (µm)</text>
<text x="281.85" y="158.30" font-size="9.2" text-anchor="middle" font-weight="bold" font-style="normal" fill="#111" stroke="#111" >Wavelength (µm)</text>
<text x="108.00" y="312.80" font-size="9.2" text-anchor="middle" font-weight="bold" font-style="normal" fill="#111" stroke="#111" >Wavelength (µm)</text>
<text x="281.85" y="312.70" font-size="9.2" text-anchor="middle" font-weight="bold" font-style="normal" fill="#111" stroke="#111" >Wavelength (µm)</text>
<text transform="translate(15.20,75.50) rotate(-90)" x="0" y="0" font-size="9.1" text-anchor="middle" font-weight="bold" fill="#111">Insertion loss (dB)</text>
<text transform="translate(15.20,230.00) rotate(-90)" x="0" y="0" font-size="9.1" text-anchor="middle" font-weight="bold" fill="#111">Insertion loss (dB)</text>
<text transform="translate(193.20,75.80) rotate(-90)" x="0" y="0" font-size="9.4" text-anchor="middle" font-weight="bold" fill="#111">Mode purity (%)</text>
<text transform="translate(193.20,230.00) rotate(-90)" x="0" y="0" font-size="9.4" text-anchor="middle" font-weight="bold" fill="#111">Mode purity (%)</text>
<defs><radialGradient id="rgR" cx="0.5" cy="0.5" r="0.5"><stop offset="0" stop-color="#b00000"/><stop offset="0.45" stop-color="#900000"/><stop offset="0.7" stop-color="#4a0000"/><stop offset="0.88" stop-color="#180000"/><stop offset="1" stop-color="#070707" stop-opacity="0"/></radialGradient><radialGradient id="rgW" cx="0.5" cy="0.5" r="0.5"><stop offset="0" stop-color="#b4b4b4"/><stop offset="0.5" stop-color="#727272"/><stop offset="0.8" stop-color="#2c2c2c"/><stop offset="0.9" stop-color="#151515" stop-opacity="0.6"/><stop offset="1" stop-color="#000" stop-opacity="0"/></radialGradient><radialGradient id="rgH" cx="0.5" cy="0.5" r="0.5"><stop offset="0" stop-color="#606060"/><stop offset="0.5" stop-color="#303030"/><stop offset="1" stop-color="#000" stop-opacity="0"/></radialGradient></defs>
<g clip-path="url(#clipC)">
<rect x="388.3" y="15.0" width="132.7" height="121.1" fill="#070707"/>
<defs><filter id="gR" x="-100%" y="-100%" width="300%" height="300%"><feGaussianBlur stdDeviation="6.5 6.5"/></filter><filter id="gW" x="-100%" y="-100%" width="300%" height="300%"><feGaussianBlur stdDeviation="9 7"/></filter><filter id="gH" x="-100%" y="-100%" width="300%" height="300%"><feGaussianBlur stdDeviation="12"/></filter><filter id="blc" x="-50%" y="-50%" width="200%" height="200%"><feGaussianBlur stdDeviation="1.2"/></filter><filter id="blk" x="-50%" y="-50%" width="200%" height="200%"><feGaussianBlur stdDeviation="1.0"/></filter></defs>
<defs><clipPath id="leftC"><rect x="380" y="0" width="74.6" height="200"/></clipPath><clipPath id="rightC"><rect x="454.6" y="0" width="80" height="200"/></clipPath></defs>
<g clip-path="url(#rightC)">
<ellipse cx="488" cy="84" rx="26" ry="34" fill="#303030" filter="url(#gH)"/>
<rect x="452" y="60" width="36" height="42" rx="10" fill="#8c8c8c" filter="url(#gW)"/>
</g>
<g clip-path="url(#leftC)">
<ellipse cx="440" cy="78" rx="28.5" ry="37" fill="url(#rgR)" filter="url(#bl2)"/>
<rect x="424" y="58" width="36" height="38" rx="8" fill="#a80000" filter="url(#gR)"/>
</g>
<g filter="url(#blc)">
<path d="M425.5,66.5 V63.5 Q426,60.6 432,60.4 H446 Q452,60.6 452.5,63.5 V66.5 Z" fill="#ff0000"/>
<path d="M425.5,86.5 V89 Q426,93 432,93.2 H446 Q452,93 452.5,89 V86.5 Z" fill="#f60000"/>
<path d="M459.5,66.5 V65 Q460,62.2 465,62 H476 Q481,62.2 481.5,65 V66.5 Z" fill="#f0f0f0"/>
<path d="M459,86.5 V89.5 Q459.5,94.3 464,94.5 H476 Q481.5,94.3 482,89.5 V86.5 Z" fill="#f2f2f2"/>
</g>
<rect x="426" y="67" width="26.5" height="19" fill="#c00000" filter="url(#bl05)"/>
<rect x="458.5" y="67" width="23.5" height="19" fill="#a8a8a8" filter="url(#bl05)"/>
<g filter="url(#blk)">
<rect x="427.8" y="68.0" width="24" height="17.4" rx="8" ry="7" fill="#ff0505"/>
<rect x="459" y="68.0" width="23" height="17.4" rx="8" ry="7" fill="#ffffff"/>
</g>
<defs><linearGradient id="gapG" x1="0" y1="0" x2="1" y2="0"><stop offset="0" stop-color="#000" stop-opacity="0"/><stop offset="0.42" stop-color="#000" stop-opacity="0.9"/><stop offset="0.58" stop-color="#000" stop-opacity="0.9"/><stop offset="1" stop-color="#000" stop-opacity="0"/></linearGradient></defs>
<rect x="450.6" y="40" width="8" height="75" fill="url(#gapG)"/>
<rect x="426" y="66.1" width="56" height="1.1" fill="#000" opacity="0.6" filter="url(#bl05)"/>
<rect x="426" y="85.7" width="56" height="1.1" fill="#000" opacity="0.6" filter="url(#bl05)"/>
<rect x="388" y="86.3" width="38" height="0.9" fill="#000" opacity="0.6"/>
<defs><linearGradient id="subR" x1="0" y1="0" x2="1" y2="0"><stop offset="0" stop-color="#aaa"/><stop offset="0.5" stop-color="#5a5a5a"/><stop offset="1" stop-color="#2a2a2a"/></linearGradient></defs>
<rect x="482" y="86.3" width="40" height="0.8" fill="url(#subR)"/>
</g>
<rect x="388.30" y="15.00" width="132.70" height="121.10" fill="none" stroke="#333" stroke-width="0.8"/>
<path d="M388.30,136.10v1.8M421.48,136.10v1.8M454.65,136.10v1.8M487.82,136.10v1.8M521.00,136.10v1.8M404.89,136.10v1.20M438.06,136.10v1.20M471.24,136.10v1.20M504.41,136.10v1.20M388.30,116.65h-1.8M388.30,86.40h-1.8M388.30,56.15h-1.8M388.30,25.90h-1.8M388.30,131.78h-1.20M388.30,101.53h-1.20M388.30,71.28h-1.20M388.30,41.03h-1.20" stroke="#333" stroke-width="0.8" fill="none"/>
<text x="388.30" y="149.00" font-size="9.7" text-anchor="middle" font-weight="normal" font-style="normal" fill="#1a1a1a" stroke="#1a1a1a" >-1.0</text>
<text x="421.48" y="149.00" font-size="9.7" text-anchor="middle" font-weight="normal" font-style="normal" fill="#1a1a1a" stroke="#1a1a1a" >-0.5</text>
<text x="454.65" y="149.00" font-size="9.7" text-anchor="middle" font-weight="normal" font-style="normal" fill="#1a1a1a" stroke="#1a1a1a" >0</text>
<text x="487.82" y="149.00" font-size="9.7" text-anchor="middle" font-weight="normal" font-style="normal" fill="#1a1a1a" stroke="#1a1a1a" >0.5</text>
<text x="521.00" y="149.00" font-size="9.7" text-anchor="middle" font-weight="normal" font-style="normal" fill="#1a1a1a" stroke="#1a1a1a" >1.0</text>
<text x="383.80" y="28.80" font-size="9.4" text-anchor="end" font-weight="normal" font-style="normal" fill="#1a1a1a" stroke="#1a1a1a" >1.0</text>
<text x="383.80" y="59.05" font-size="9.4" text-anchor="end" font-weight="normal" font-style="normal" fill="#1a1a1a" stroke="#1a1a1a" >0.5</text>
<text x="383.80" y="89.30" font-size="9.4" text-anchor="end" font-weight="normal" font-style="normal" fill="#1a1a1a" stroke="#1a1a1a" >0</text>
<text x="383.80" y="119.55" font-size="9.4" text-anchor="end" font-weight="normal" font-style="normal" fill="#1a1a1a" stroke="#1a1a1a" >-0.5</text>
<text x="400.10" y="31.70" font-size="13.3" text-anchor="start" font-weight="normal" font-style="normal" fill="#eee" stroke="#eee" >(c)</text>
<text x="502.60" y="31.70" font-size="12.3" text-anchor="start" font-weight="normal" font-style="normal" fill="#eee" stroke="#eee" >E</text>
<text x="509.70" y="32.60" font-size="9.6" text-anchor="start" font-weight="normal" font-style="normal" fill="#eee" stroke="#eee" >z</text>
<text x="458.20" y="126.80" font-size="9.4" text-anchor="middle" font-weight="bold" font-style="normal" fill="#f2f2f2" stroke="#f2f2f2" >Output : TM1 mode</text>
<rect x="527" y="16.2" width="5.3" height="119.3" fill="url(#cbC)" stroke="#999" stroke-width="0.5"/>
<text x="535.20" y="19.00" font-size="6.5" text-anchor="start" font-weight="normal" font-style="normal" fill="#1a1a1a" stroke="#1a1a1a" >1</text>
<text x="534.00" y="136.50" font-size="6.5" text-anchor="start" font-weight="normal" font-style="normal" fill="#1a1a1a" stroke="#1a1a1a" >-1</text>
<text x="454.30" y="159.80" font-size="9.9" text-anchor="middle" font-weight="bold" font-style="normal" fill="#111" stroke="#111" ><tspan font-style="italic">y</tspan> (µm)</text>
<text transform="translate(365.3,75.3) rotate(-90)" font-size="10" text-anchor="middle" font-weight="bold" fill="#111"><tspan font-style="italic">z</tspan> (µm)</text>
<g clip-path="url(#clipF)">
<rect x="388.5" y="169.3" width="132.20000000000005" height="121.0" fill="#fff"/>
<path d="M438.30,221.20 A22.20,7.00 0 0 1 482.70,221.20 Z M438,231 A22,9 0 1 0 482,231 A22,9 0 1 0 438,231 Z M437.50,240.30 A21.00,6.90 0 0 0 479.50,240.30 Z" fill="#000" opacity="0.7" filter="url(#bl3)"/>
<path d="M438.30,221.20 A22.20,7.00 0 0 1 482.70,221.20 Z M438,231 A22,9 0 1 0 482,231 A22,9 0 1 0 438,231 Z M437.50,240.30 A21.00,6.90 0 0 0 479.50,240.30 Z" fill="#000" filter="url(#bl2)"/>
<path d="M438.30,221.20 A22.20,7.00 0 0 1 482.70,221.20 Z M438,231 A22,9 0 1 0 482,231 A22,9 0 1 0 438,231 Z M437.50,240.30 A21.00,6.90 0 0 0 479.50,240.30 Z" fill="#000" filter="url(#bl05)"/>
<g filter="url(#bl1)">
<path d="M446.30,220.60 A15.20,3.60 0 0 1 476.70,220.60 Z" fill="#ff0000"/>
<ellipse cx="460.5" cy="231.3" rx="17.0" ry="6.9" fill="#ff0000"/>
<path d="M442.70,241.20 A14.50,3.00 0 0 0 471.70,241.20 Z" fill="#ff0000"/>
</g>
<rect x="437.5" y="220.6" width="46" height="1.5" fill="#fff" filter="url(#bl05)"/>
<rect x="436.5" y="239.9" width="43" height="1.1" fill="#fff" filter="url(#bl05)"/>
<path d="M428,241.9 L440,241.7" stroke="#555" stroke-width="0.6"/>
<circle cx="428" cy="241.9" r="0.8" fill="#333"/>
</g>
<rect x="388.50" y="169.30" width="132.20" height="121.00" fill="none" stroke="#666" stroke-width="0.8"/>
<path d="M388.50,290.30v1.8M421.55,290.30v1.8M454.60,290.30v1.8M487.65,290.30v1.8M520.70,290.30v1.8M395.11,290.30v-1.20M401.72,290.30v-1.20M408.33,290.30v-1.20M414.94,290.30v-1.20M428.16,290.30v-1.20M434.77,290.30v-1.20M441.38,290.30v-1.20M447.99,290.30v-1.20M461.21,290.30v-1.20M467.82,290.30v-1.20M474.43,290.30v-1.20M481.04,290.30v-1.20M494.26,290.30v-1.20M500.87,290.30v-1.20M507.48,290.30v-1.20M514.09,290.30v-1.20M388.50,272.00h-1.8M388.50,241.30h-1.8M388.50,210.60h-1.8M388.50,179.90h-1.8M388.50,284.28h1.20M388.50,278.14h1.20M388.50,265.86h1.20M388.50,259.72h1.20M388.50,253.58h1.20M388.50,247.44h1.20M388.50,235.16h1.20M388.50,229.02h1.20M388.50,222.88h1.20M388.50,216.74h1.20M388.50,204.46h1.20M388.50,198.32h1.20M388.50,192.18h1.20M388.50,186.04h1.20M388.50,173.76h1.20" stroke="#444" stroke-width="0.8" fill="none"/>
<text x="388.50" y="303.30" font-size="9.7" text-anchor="middle" font-weight="normal" font-style="normal" fill="#1a1a1a" stroke="#1a1a1a" >-1.0</text>
<text x="421.55" y="303.30" font-size="9.7" text-anchor="middle" font-weight="normal" font-style="normal" fill="#1a1a1a" stroke="#1a1a1a" >-0.5</text>
<text x="454.60" y="303.30" font-size="9.7" text-anchor="middle" font-weight="normal" font-style="normal" fill="#1a1a1a" stroke="#1a1a1a" >0</text>
<text x="487.65" y="303.30" font-size="9.7" text-anchor="middle" font-weight="normal" font-style="normal" fill="#1a1a1a" stroke="#1a1a1a" >0.5</text>
<text x="520.70" y="303.30" font-size="9.7" text-anchor="middle" font-weight="normal" font-style="normal" fill="#1a1a1a" stroke="#1a1a1a" >1.0</text>
<text x="383.30" y="182.80" font-size="9.4" text-anchor="end" font-weight="normal" font-style="normal" fill="#1a1a1a" stroke="#1a1a1a" >1.0</text>
<text x="383.30" y="213.50" font-size="9.4" text-anchor="end" font-weight="normal" font-style="normal" fill="#1a1a1a" stroke="#1a1a1a" >0.5</text>
<text x="383.30" y="244.20" font-size="9.4" text-anchor="end" font-weight="normal" font-style="normal" fill="#1a1a1a" stroke="#1a1a1a" >0</text>
<text x="383.30" y="274.90" font-size="9.4" text-anchor="end" font-weight="normal" font-style="normal" fill="#1a1a1a" stroke="#1a1a1a" >-0.5</text>
<text x="400.90" y="187.50" font-size="13.3" text-anchor="start" font-weight="normal" font-style="normal" fill="#1a1a1a" stroke="#1a1a1a" >(f)</text>
<text x="502.60" y="188.00" font-size="12.3" text-anchor="start" font-weight="normal" font-style="normal" fill="#333" stroke="#333" >E</text>
<text x="509.70" y="188.80" font-size="9.6" text-anchor="start" font-weight="normal" font-style="normal" fill="#333" stroke="#333" >z</text>
<text x="458.20" y="281.10" font-size="9.4" text-anchor="middle" font-weight="bold" font-style="normal" fill="#111" stroke="#111" >Output : TM0 mode</text>
<rect x="527.2" y="171" width="5.2" height="117.5" fill="url(#cbF)" stroke="#999" stroke-width="0.5"/>
<text x="534.60" y="174.20" font-size="6.5" text-anchor="start" font-weight="normal" font-style="normal" fill="#1a1a1a" stroke="#1a1a1a" >0.5</text>
<text x="535.00" y="289.60" font-size="6.5" text-anchor="start" font-weight="normal" font-style="normal" fill="#1a1a1a" stroke="#1a1a1a" >0</text>
<text x="454.30" y="315.20" font-size="9.9" text-anchor="middle" font-weight="bold" font-style="normal" fill="#111" stroke="#111" ><tspan font-style="italic">y</tspan> (µm)</text>
<text transform="translate(365.0,230.0) rotate(-90)" font-size="10" text-anchor="middle" font-weight="bold" fill="#111"><tspan font-style="italic">z</tspan> (µm)</text>
</svg></body></html>
